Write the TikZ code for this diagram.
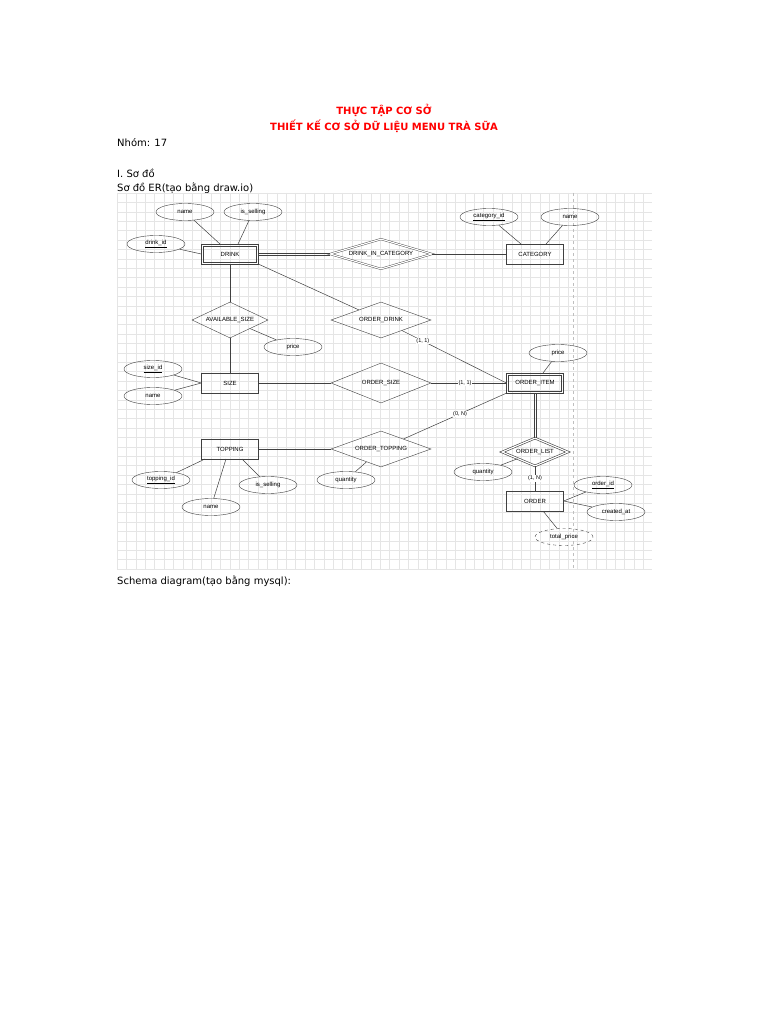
\documentclass[tikz,border=0pt]{standalone}
\usepackage{fontspec}
\setmainfont{DejaVu Sans}
\newfontfamily\dgf{Liberation Sans}
\usetikzlibrary{shapes.geometric}
\begin{document}
\begin{tikzpicture}[x=1pt,y=-1pt,
 ent/.style={draw=black!75,minimum width=57pt,minimum height=20pt,inner sep=0,font=\dgf\fontsize{6}{7}\selectfont},
 rel/.style={draw=black!75,diamond,aspect=2.8,inner sep=0,minimum width=100pt,minimum height=36pt,font=\dgf\fontsize{6}{7}\selectfont},
 att/.style={draw=black!75,ellipse,minimum width=58pt,minimum height=17pt,inner sep=0,font=\dgf\fontsize{6}{7}\selectfont},
 dbl/.style={double,double distance=1.2pt},
 lbl/.style={font=\dgf\fontsize{5.5}{6}\selectfont,fill=white,inner sep=0.5pt},
 ln/.style={draw=black!75,line width=0.5pt}]
\useasboundingbox (0,0) rectangle (768,1024);
\fill[white] (0,0) rectangle (768,1024);
% text
\node[text=red,font=\bfseries\fontsize{10}{12}\selectfont] (t1) at (384,110) {THỰC TẬP CƠ SỞ};
\node[text=red,font=\bfseries\fontsize{10}{12}\selectfont] (t2) at (384,126) {THIẾT KẾ CƠ SỞ DỮ LIỆU MENU TRÀ SỮA};
\node[anchor=west,font=\fontsize{10}{12}\selectfont,inner sep=0] (t3) at (117,143) {Nhóm: 17};
\node[anchor=west,font=\fontsize{10}{12}\selectfont,inner sep=0] (t4) at (117,173) {I. Sơ đồ};
\node[anchor=west,font=\fontsize{10}{12}\selectfont,inner sep=0] (t5) at (117,188) {Sơ đồ ER(tạo bằng draw.io)};
\node[anchor=west,font=\fontsize{10}{12}\selectfont,inner sep=0] (t6) at (117,581) {Schema diagram(tạo bằng mysql):};
% grid
\foreach \i in {0,...,56} {\draw[black!10,line width=0.3pt] ({117+9.4*\i},193) -- ({117+9.4*\i},570);}
\foreach \j in {0,...,40} {\draw[black!10,line width=0.3pt] (117,{193+9.4*\j}) -- (652,{193+9.4*\j});}
\draw[black!25,dashed,line width=0.4pt] (573,193) -- (573,570);
% entities
\node[ent] (drink) at (230,254) {DRINK};
\draw[black!75,line width=0.5pt] ([shift={(2,2)}]drink.north west) rectangle ([shift={(-2,-2)}]drink.south east);
\node[ent] (cat) at (535,254) {CATEGORY};
\node[ent] (size) at (230,383) {SIZE};
\node[ent] (oi) at (535,383) {ORDER\_ITEM};
\draw[black!75,line width=0.5pt] ([shift={(2,2)}]oi.north west) rectangle ([shift={(-2,-2)}]oi.south east);
\node[ent] (top) at (230,449) {TOPPING};
\node[ent] (ord) at (535,501) {ORDER};
% relations
\node[rel,dbl,minimum width=102pt,minimum height=30pt] (dic) at (381,254) {DRINK\_IN\_CATEGORY};
\node[rel,minimum width=76pt,minimum height=36pt] (as) at (230,320) {AVAILABLE\_SIZE};
\node[rel] (od) at (381,320) {ORDER\_DRINK};
\node[rel,minimum height=40pt] (os) at (381,383) {ORDER\_SIZE};
\node[rel] (ot) at (381,449) {ORDER\_TOPPING};
\node[rel,dbl,line width=0.6pt,minimum width=66pt,minimum height=28pt] (ol) at (535,452) {ORDER\_LIST};
% attributes
\node[att] (a1) at (185,212) {name};
\node[att] (a2) at (253,212) {is\_selling};
\node[att] (a3) at (156,244) {\underline{drink\_id}};
\node[att] (a4) at (293,347) {price};
\node[att] (a5) at (153,369) {\underline{size\_id}};
\node[att] (a6) at (153,396) {name};
\node[att] (a7) at (489,217) {\underline{category\_id}};
\node[att] (a8) at (570,217) {name};
\node[att] (a9) at (558,353) {price};
\node[att] (a10) at (161,480) {\underline{topping\_id}};
\node[att] (a11) at (211,507) {name};
\node[att] (a12) at (268,485) {is\_selling};
\node[att] (a13) at (346,480) {quantity};
\node[att] (a14) at (483,472) {quantity};
\node[att] (a15) at (603,485) {\underline{order\_id}};
\node[att] (a16) at (616,512) {created\_at};
\node[att,dashed] (a17) at (564,537) {total\_price};
% attribute links
\draw[ln] (a1) -- (220,244);
\draw[ln] (a2) -- (238,244);
\draw[ln] (a3) -- (drink.west);
\draw[ln] (a4) -- (as);
\draw[ln] (a5) -- (size.west);
\draw[ln] (a6) -- (size.west);
\draw[ln] (a7) -- (521,244);
\draw[ln] (a8) -- (546,244);
\draw[ln] (a9) -- (543,373);
\draw[ln] (a10) -- (205,459);
\draw[ln] (a11) -- (226,459);
\draw[ln] (a12) -- (242,459);
\draw[ln] (a13) -- (ot);
\draw[ln] (a14) -- (ol);
\draw[ln] (a15) -- (ord.east);
\draw[ln] (a16) -- (ord.east);
\draw[ln] (a17) -- (ord);
% relationships
\draw[ln] ([yshift=-1.2]drink.east) -- ([yshift=-1.2]dic.west);
\draw[ln] ([yshift=1.2]drink.east) -- ([yshift=1.2]dic.west);
\draw[ln] (dic) -- (cat);
\draw[ln] (drink) -- (as);
\draw[ln] (as) -- (size);
\draw[ln] (drink.south east) -- (od);
\draw[ln] (od) -- node[lbl,pos=0.2]{(1, 1)} (oi.west);
\draw[ln] (size) -- (os);
\draw[ln] (os) -- node[lbl,pos=0.45]{(1, 1)} (oi);
\draw[ln] (top) -- (ot);
\draw[ln] (ot) -- node[lbl,pos=0.55]{(0, N)} (oi.south west);
\draw[ln] ([xshift=-1.2]oi.south) -- ([xshift=-1.2]ol.north);
\draw[ln] ([xshift=1.2]oi.south) -- ([xshift=1.2]ol.north);
\draw[ln] (ol) -- node[lbl]{(1, N)} (ord);
\end{tikzpicture}
\end{document}
